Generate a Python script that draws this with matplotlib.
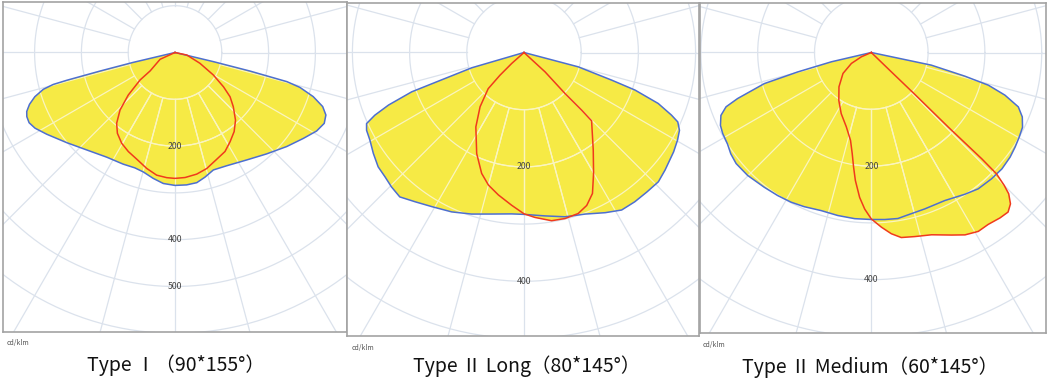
import numpy as np
import matplotlib
matplotlib.use('Agg')
import matplotlib.pyplot as plt
from matplotlib.patches import Polygon

plt.rcParams['font.family'] = ['Noto Sans CJK SC', 'DejaVu Sans']

# ============================================================
# 配光数据: gamma 角 (度, 0 = 正下方, 正值 = 右侧) / 光强 (cd/klm)
# C0-C180 面 = 蓝色轮廓, C90-C270 面 = 红色轮廓
# ============================================================
# Type I
t1_c0_gamma = [-90, -76.7, -76.1, -75.6, -75.3, -74.4, -72.5, -70.4, -68.3, -66.6, -64.3,
               -61.6, -57.5, -50.2, -42.2, -33.1, -24.9, -19.2, -14.9, -9.8, -5.1, 0,
               5.0, 9.5, 13.5, 18.1, 24.5, 33.7, 42.1, 49.9, 56.2, 61.0, 64.6, 67.5,
               69.9, 72.3, 74.4, 75.4, 76.1, 76.6, 90]
t1_c0_int = [0, 92, 165, 239, 269, 292, 314, 330, 341, 345, 346,
             340, 325, 301, 281, 267, 263, 261, 264, 273, 281, 284,
             284, 282, 274, 264, 266, 276, 292, 312, 330, 346, 353, 349,
             336, 310, 277, 247, 165, 84, 0]
t1_c90_gamma = [-90, -65.5, -53.5, -51.8, -47.7, -43.7, -39.5, -35.5, -30.4, -25.2,
                -19.8, -13.7, -8.5, -3.8, 0, 4.6, 10.1, 15.3, 21.3, 26.8,
                31.7, 36.8, 41.8, 47.1, 51.2, 54.7, 59.6, 66.6, 77.9, 90]
t1_c90_int = [0, 35, 66, 95, 135, 170, 196, 212, 225, 234,
              242, 255, 265, 268, 269, 268, 264, 257, 245, 237,
              224, 211, 194, 170, 151, 127, 95, 58, 26, 0]

# Type II Long
t2l_c0_gamma = [-90, -73.7, -71.8, -70.7, -68.8, -67.2, -65.7, -63.7, -60.3, -56.2, -51.9,
                -48.2, -44.6, -40.7, -36.1, -30.9, -24.4, -18.0, -11.3, -4.4, 0,
                7.3, 14.0, 20.7, 26.9, 31.8, 36.6, 41.4, 46.1, 50.2, 56.4, 60.3,
                63.4, 65.7, 67.0, 69.2, 71.3, 72.5, 75.2, 90]
t2l_c0_int = [0, 95, 145, 208, 254, 283, 302, 307, 310, 317, 324,
              326, 330, 333, 323, 314, 306, 297, 288, 283, 283,
              288, 296, 302, 314, 324, 325, 325, 326, 321, 314, 309,
              304, 295, 280, 251, 205, 161, 98, 0]
t2l_c90_gamma = [-90, -48.3, -46.6, -44.7, -39.0, -32.9, -25.1, -19.3, -15.0, -10.2,
                 -4.6, 0, 3.8, 9.3, 13.9, 18.6, 22.3, 25.9, 29.9, 35.4,
                 44.7, 45, 45, 47.4, 90]
t2l_c90_int = [0, 29, 58, 89, 122, 155, 195, 224, 240, 253,
               268, 282, 289, 298, 299, 297, 289, 274, 244, 209,
               168, 143, 101, 50, 0]

# Type II Medium
t2m_c0_gamma = [-90, -76.9, -75.2, -73.8, -71.0, -69.5, -67.3, -64.2, -61.4, -57.6, -54.2,
                -50.6, -45.2, -38.5, -33.2, -28.2, -23.5, -17.6, -11.6, -5.7, 0,
                4.6, 9.1, 12.8, 18.9, 26.4, 33.4, 38.1, 43.6, 48.3, 53.0, 56.7,
                60.2, 63.7, 66.9, 69.7, 72.3, 74.4, 75.8, 78.1, 90]
t2m_c0_int = [0, 72, 134, 196, 249, 273, 287, 295, 298, 300, 305,
              308, 307, 303, 301, 299, 296, 292, 293, 294, 294,
              295, 296, 293, 291, 291, 299, 305, 307, 308, 306, 303,
              300, 297, 289, 276, 247, 214, 170, 108, 0]
t2m_c90_gamma = [-90, -66.6, -61.2, -53.5, -43.3, -34.1, -26.2, -18.6, -13.3, -10.7,
                 -8.8, -7.1, -4.6, -2.4, 0, 3.3, 6.3, 9.2, 13.3, 18.3,
                 23.7, 27.2, 30.9, 34.2, 37.9, 40.6, 42.6, 44.2, 45.0, 45.9,
                 46.1, 45.9, 46.1, 46.0, 90]
t2m_c90_int = [0, 19, 40, 62, 83, 102, 120, 138, 159, 181,
               204, 227, 256, 276, 293, 308, 321, 330, 333, 338,
               351, 361, 367, 366, 369, 370, 362, 347, 331, 307,
               270, 189, 106, 49, 0]

ring_values = [100, 200, 300, 400, 500, 600, 700, 800]
spoke_angles = list(range(0, 360, 15))

captions = ['Type Ⅰ（90*155°）', 'Type Ⅱ Long（80*145°）', 'Type Ⅱ Medium（60*145°）']
ring_labels = [[200, 400, 500], [200, 400], [200, 400]]

# ============================================================
# 版面 (像素)
# ============================================================
W, H = 1050, 390
YELLOW = '#f6ea45'
BLUE = '#4d6fd0'
RED = '#f03a1c'
GRID = '#dbe2ec'
GRID_ON_FILL = '#faf5bf'

panels = [
    dict(box=(3, 2, 347, 332), center=(175, 52.5), scale=0.468,
         c0=(t1_c0_gamma, t1_c0_int), c90=(t1_c90_gamma, t1_c90_int),
         cap_xy=(176, 365), unit_xy=(7, 343)),
    dict(box=(347, 3, 699, 336), center=(524, 52.5), scale=0.572,
         c0=(t2l_c0_gamma, t2l_c0_int), c90=(t2l_c90_gamma, t2l_c90_int),
         cap_xy=(527, 366), unit_xy=(352, 348)),
    dict(box=(700, 3, 1046, 333), center=(871.3, 52.5), scale=0.568,
         c0=(t2m_c0_gamma, t2m_c0_int), c90=(t2m_c90_gamma, t2m_c90_int),
         cap_xy=(870, 367), unit_xy=(703, 345)),
]


def to_xy(gamma, inten):
    g = np.radians(np.asarray(gamma, dtype=float))
    i = np.asarray(inten, dtype=float)
    return i * np.sin(g), -i * np.cos(g)


def draw_grid(ax, color, zorder, clip=None):
    t = np.linspace(0, 2 * np.pi, 361)
    arts = []
    for r in ring_values:
        arts += ax.plot(r * np.cos(t), r * np.sin(t), color=color, lw=0.9, zorder=zorder)
    for a in spoke_angles:
        x, y = to_xy([a, a], [ring_values[0], ring_values[-1]])
        arts += ax.plot(x, y, color=color, lw=0.9, zorder=zorder)
    if clip is not None:
        for art in arts:
            art.set_clip_path(clip)


fig = plt.figure(figsize=(W / 100, H / 100), dpi=100)

for k, p in enumerate(panels):
    x0, y0, x1, y1 = p['box']
    cx, cy = p['center']
    s = p['scale']
    ax = fig.add_axes([x0 / W, 1 - y1 / H, (x1 - x0) / W, (y1 - y0) / H])
    ax.set_xlim((x0 - cx) / s, (x1 - cx) / s)
    ax.set_ylim(-(y1 - cy) / s, (cy - y0) / s)
    ax.set_xticks([])
    ax.set_yticks([])
    for sp in ax.spines.values():
        sp.set_color('#a3a3a3')
        sp.set_linewidth(1.2)

    draw_grid(ax, GRID, 1)

    bx, by = to_xy(*p['c0'])
    rx, ry = to_xy(*p['c90'])
    fills = []
    for xs, ys in [(bx, by), (rx, ry)]:
        poly = Polygon(np.column_stack([xs, ys]), closed=True,
                       facecolor=YELLOW, edgecolor='none', zorder=2)
        ax.add_patch(poly)
        fills.append(poly)
    # 黄色区域内的网格线颜色更浅
    for poly in fills:
        draw_grid(ax, GRID_ON_FILL, 3, clip=poly)

    ax.plot(bx, by, color=BLUE, lw=1.1, zorder=4)
    ax.plot(rx, ry, color=RED, lw=1.1, zorder=5)

    for v in ring_labels[k]:
        ax.text(0, -v, str(v), ha='center', va='center', fontsize=6.3,
                color='#444444', zorder=6)

    ux, uy = p['unit_xy']
    fig.text(ux / W, 1 - uy / H, 'cd/klm', ha='left', va='center',
             fontsize=5, color='#555555')
    tx, ty = p['cap_xy']
    fig.text(tx / W, 1 - ty / H, captions[k], ha='center', va='center',
             fontsize=14, color='#111111')

fig.savefig('out.png', dpi=100)
